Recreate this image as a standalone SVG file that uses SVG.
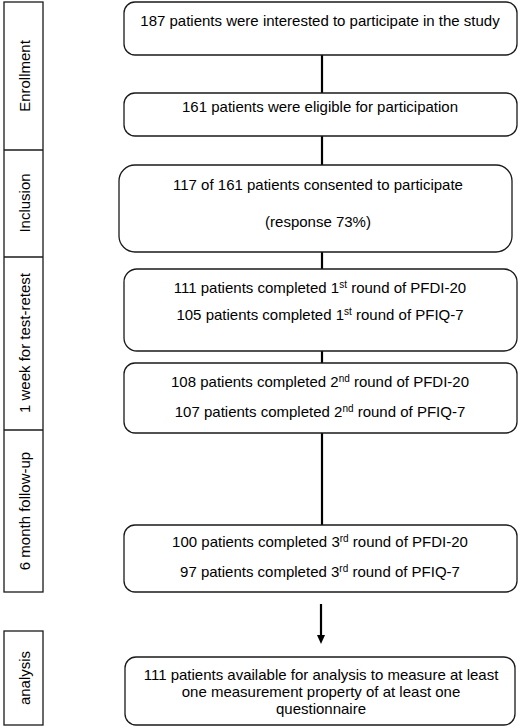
<svg xmlns="http://www.w3.org/2000/svg" width="520" height="728" viewBox="0 0 520 728">
<style>
.box{fill:#fff;stroke:#1a1a1a;stroke-width:1.3}
.col{fill:none;stroke:#1a1a1a;stroke-width:1.3}
.t{font-family:"Liberation Sans",Arial,sans-serif;font-size:15px;fill:#000;text-anchor:middle}
.sup{font-size:10px}
.con{stroke:#000;stroke-width:2.2;fill:none}
</style>
<defs>
<marker id="ah" markerWidth="8" markerHeight="8" refX="4" refY="7" orient="auto" markerUnits="userSpaceOnUse">
<path d="M0,0 L8,0 L4,7 z" fill="#000" transform="rotate(-90 4 4)"/>
</marker>
</defs>
<rect width="520" height="728" fill="#fff"/>
<g id="phases">
<rect class="col" x="4" y="2" width="39" height="590"/>
<line class="col" x1="4" y1="150" x2="43" y2="150"/>
<line class="col" x1="4" y1="257" x2="43" y2="257"/>
<line class="col" x1="4" y1="430" x2="43" y2="430"/>
<rect class="col" x="4" y="631" width="39" height="94"/>
<text class="t" transform="translate(30 76) rotate(-90)">Enrollment</text>
<text class="t" transform="translate(30 203) rotate(-90)">Inclusion</text>
<text class="t" transform="translate(30 343) rotate(-90)">1 week for test-retest</text>
<text class="t" transform="translate(30 511) rotate(-90)">6 month follow-up</text>
<text class="t" transform="translate(30 678) rotate(-90)">analysis</text>
</g>
<g id="connectors">
<line class="con" x1="322" y1="55" x2="322" y2="93"/>
<line class="con" x1="322" y1="136" x2="322" y2="165"/>
<line class="con" x1="322" y1="252" x2="322" y2="269"/>
<line class="con" x1="322" y1="351" x2="322" y2="363"/>
<line class="con" x1="322" y1="433" x2="322" y2="525"/>
<line class="con" x1="321" y1="604" x2="321" y2="636"/>
<path d="M317,635 L325,635 L321,644 z" fill="#000"/>
</g>
<g id="n1">
<rect class="box" x="124" y="2" width="393" height="53" rx="11"/>
<text class="t" x="320" y="26">187 patients were interested to participate in the study</text>
</g>
<g id="n2">
<rect class="box" x="124" y="93" width="393" height="43" rx="11"/>
<text class="t" x="320" y="112">161 patients were eligible for participation</text>
</g>
<g id="n3">
<rect class="box" x="119" y="165" width="393" height="87" rx="16"/>
<text class="t" x="318" y="190">117 of 161 patients consented to participate</text>
<text class="t" x="318" y="227">(response 73%)</text>
</g>
<g id="n4">
<rect class="box" x="124" y="269" width="393" height="82" rx="13"/>
<text class="t" x="320" y="293">111 patients completed 1<tspan class="sup" dy="-5">st</tspan><tspan dy="5"> round of PFDI-20</tspan></text>
<text class="t" x="320" y="320">105 patients completed 1<tspan class="sup" dy="-5">st</tspan><tspan dy="5"> round of PFIQ-7</tspan></text>
</g>
<g id="n5">
<rect class="box" x="124" y="363" width="393" height="70" rx="11"/>
<text class="t" x="320" y="387">108 patients completed 2<tspan class="sup" dy="-5">nd</tspan><tspan dy="5"> round of PFDI-20</tspan></text>
<text class="t" x="320" y="417">107 patients completed 2<tspan class="sup" dy="-5">nd</tspan><tspan dy="5"> round of PFIQ-7</tspan></text>
</g>
<g id="n6">
<rect class="box" x="124" y="525" width="393" height="67" rx="11"/>
<text class="t" x="320" y="547">100 patients completed 3<tspan class="sup" dy="-5">rd</tspan><tspan dy="5"> round of PFDI-20</tspan></text>
<text class="t" x="320" y="577">97 patients completed 3<tspan class="sup" dy="-5">rd</tspan><tspan dy="5"> round of PFIQ-7</tspan></text>
</g>
<g id="n7">
<rect class="box" x="125" y="657" width="390" height="68" rx="11"/>
<text class="t" x="321" y="680">111 patients available for analysis to measure at least</text>
<text class="t" x="321" y="697">one measurement property of at least one</text>
<text class="t" x="321" y="714">questionnaire</text>
</g>
</svg>
